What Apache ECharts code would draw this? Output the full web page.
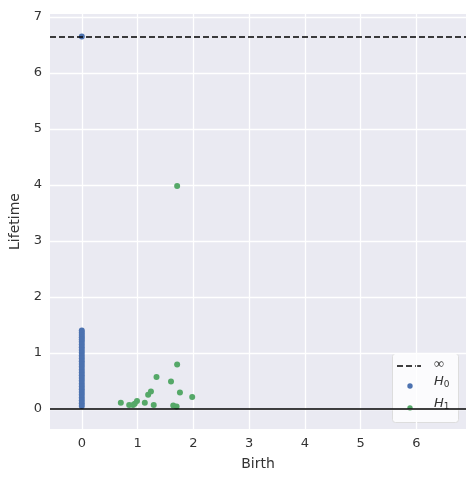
<!DOCTYPE html><html><head><meta charset="utf-8"><script src="https://cdn.jsdelivr.net/npm/echarts@6/dist/echarts.min.js"></script></head><body style="margin:0"><div id="c" style="width:474px;height:483px"></div><script>
const infValue = 6.65;
const h0Births = [0,0,0,0,0,0,0,0,0,0,0,0,0,0,0,0,0,0,0,0,0,0,0,0,0,0,0,0,0,0];
const h0Deaths = [6.65,1.40,1.36,1.32,1.28,1.24,1.20,1.15,1.10,1.05,1.00,0.95,0.90,0.85,0.80,0.75,0.70,0.65,0.60,0.55,0.50,0.45,0.40,0.35,0.30,0.25,0.20,0.15,0.10,0.05];
const h1Births = [0.70,0.85,0.92,0.99,0.95,1.13,1.19,1.24,1.29,1.34,1.60,1.71,1.76,1.64,1.70,1.98,1.71];
const h1Lifetimes = [0.11,0.07,0.07,0.14,0.09,0.11,0.25,0.31,0.07,0.57,0.49,0.79,0.29,0.06,0.04,0.21,3.98];
const xTicks=[0,1,2,3,4,5,6], yTicks=[0,1,2,3,4,5,6,7];
const ch = echarts.init(document.getElementById('c'));
const ff='DejaVu Sans';
ch.setOption({
 backgroundColor:'#fff', animation:false,
 grid:{left:48,right:8,top:14,bottom:54,backgroundColor:'#eaeaf2',show:true,borderWidth:0},
 xAxis:{type:'value',min:-0.57,max:6.89,name:'Birth',nameLocation:'middle',nameGap:28,
  nameTextStyle:{fontFamily:ff,fontSize:14,color:'#333'},
  axisLine:{show:false},axisTick:{show:false,customValues:xTicks},splitLine:{lineStyle:{color:'#fff',width:1.3}},
  axisLabel:{fontFamily:ff,fontSize:13,color:'#333',customValues:xTicks}},
 yAxis:{type:'value',min:-0.36,max:7.05,name:'Lifetime',nameLocation:'middle',nameGap:28,
  nameTextStyle:{fontFamily:ff,fontSize:14,color:'#333'},
  axisLine:{show:false},axisTick:{show:false,customValues:yTicks},splitLine:{lineStyle:{color:'#fff',width:1.3}},
  axisLabel:{fontFamily:ff,fontSize:13,color:'#333',customValues:yTicks}},
 series:[
  {type:'scatter',name:'H0',symbolSize:6,itemStyle:{color:'#4c72b0',opacity:1},
   data:h0Births.map((b,i)=>[b,h0Deaths[i]]),
   markLine:{silent:true,symbol:'none',label:{show:false},data:[
    {yAxis:infValue,lineStyle:{color:'#000',type:[6,3],width:1.5}},
    {yAxis:0,lineStyle:{color:'#000',type:'solid',width:1.5}}]}},
  {type:'scatter',name:'H1',symbolSize:6,itemStyle:{color:'#55a868',opacity:1},
   data:h1Births.map((b,i)=>[b,h1Lifetimes[i]])}
 ],
 graphic:[
  {type:'rect',left:392,top:353,shape:{width:66,height:69,r:3},style:{fill:'rgba(255,255,255,0.8)',stroke:'#ddd'}},
  {type:'line',shape:{x1:397,y1:366,x2:422,y2:366},style:{stroke:'#000',lineWidth:1.5,lineDash:[6,3]}},
  {type:'text',left:434,top:357,style:{text:'∞',fontFamily:'Noto Sans',fontSize:14,fill:'#333'}},
  {type:'circle',shape:{cx:410,cy:386,r:2.7},style:{fill:'#4c72b0'}},
  {type:'text',left:434,top:375,style:{rich:{a:{fontFamily:ff,fontStyle:'italic',fontSize:13,fill:'#333'},s:{fontFamily:ff,fontSize:9,fill:'#333',verticalAlign:'bottom',padding:[6,0,0,0]}},text:'{a|H}{s|0}'}},
  {type:'circle',shape:{cx:410,cy:408,r:2.7},style:{fill:'#55a868'}},
  {type:'text',left:434,top:397,style:{rich:{a:{fontFamily:ff,fontStyle:'italic',fontSize:13,fill:'#333'},s:{fontFamily:ff,fontSize:9,fill:'#333',verticalAlign:'bottom',padding:[6,0,0,0]}},text:'{a|H}{s|1}'}}
 ]
});
</script></body></html>
